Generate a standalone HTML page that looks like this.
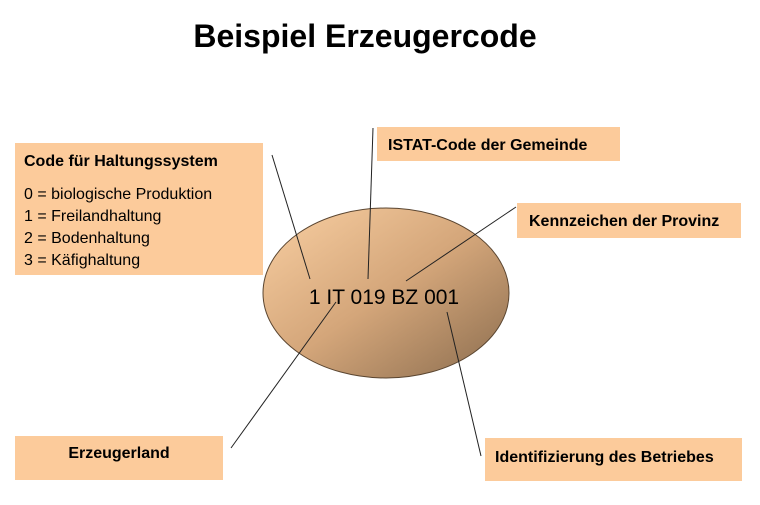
<!DOCTYPE html>
<html><head><meta charset="utf-8"><style>
body{margin:0;width:760px;height:500px;background:#fff;overflow:hidden;font-family:"Liberation Sans",sans-serif;}
</style></head><body>
<svg width="760" height="500" xmlns="http://www.w3.org/2000/svg" font-family="Liberation Sans, sans-serif">
<defs>
<linearGradient id="g" x1="0" y1="0" x2="1" y2="1">
<stop offset="0" stop-color="#f9cfa2"/>
<stop offset="0.5" stop-color="#d4a67a"/>
<stop offset="1" stop-color="#8a6c4e"/>
</linearGradient>
</defs>
<text x="365" y="47" text-anchor="middle" font-size="32" font-weight="bold" fill="#000">Beispiel Erzeugercode</text>
<rect x="15" y="143" width="248" height="132" fill="#fccb9b"/>
<text x="24" y="166" font-size="16" font-weight="bold">Code für Haltungssystem</text>
<text x="24" y="199" font-size="16">0 = biologische Produktion</text>
<text x="24" y="221" font-size="16">1 = Freilandhaltung</text>
<text x="24" y="243" font-size="16">2 = Bodenhaltung</text>
<text x="24" y="265" font-size="16">3 = Käfighaltung</text>
<rect x="377" y="127" width="243" height="34" fill="#fccb9b"/>
<text x="388" y="150" font-size="16" font-weight="bold">ISTAT-Code der Gemeinde</text>
<rect x="517" y="203" width="224" height="35" fill="#fccb9b"/>
<text x="529" y="226" font-size="16" font-weight="bold">Kennzeichen der Provinz</text>
<rect x="15" y="436" width="208" height="44" fill="#fccb9b"/>
<text x="119" y="458" font-size="16" font-weight="bold" text-anchor="middle">Erzeugerland</text>
<rect x="485" y="438" width="257" height="43" fill="#fccb9b"/>
<text x="495" y="462" font-size="16" font-weight="bold">Identifizierung des Betriebes</text>
<ellipse cx="386" cy="293" rx="123" ry="85" fill="url(#g)" stroke="#5a4530" stroke-width="1"/>
<text x="384" y="304" font-size="21" text-anchor="middle">1 IT 019 BZ 001</text>
<g stroke="#222" stroke-width="1">
<line x1="272" y1="155" x2="310" y2="279"/>
<line x1="373" y1="128" x2="368" y2="279"/>
<line x1="516" y1="207" x2="406" y2="281"/>
<line x1="336" y1="302" x2="231" y2="448"/>
<line x1="447" y1="312" x2="481" y2="456"/>
</g>
</svg>
</body></html>
